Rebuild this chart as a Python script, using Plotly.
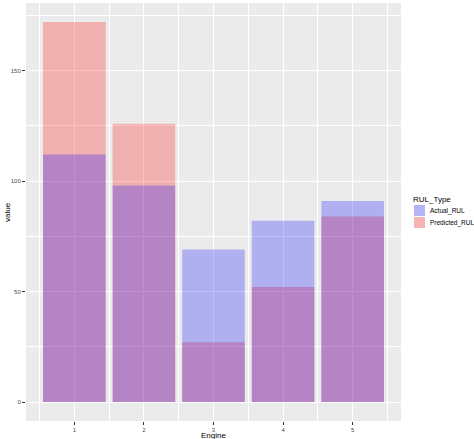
import plotly.graph_objects as go

engines = [1, 2, 3, 4, 5]
actual_rul = [112, 98, 69, 82, 91]
predicted_rul = [172, 126, 27, 52, 84]
series_names = ["Actual_RUL", "Predicted_RUL"]
series_colors = ["rgba(0,0,255,0.25)", "rgba(255,0,0,0.25)"]

font = "Liberation Sans, Arial, sans-serif"
W, H = 474, 439
L, R, T, B = 26, 73, 3, 18
pw, ph = W - L - R, H - T - B


def px_x(x):
    # pixel -> paper x
    return (x - L) / pw


def px_y(y):
    # pixel (from top) -> paper y
    return (H - B - y) / ph


fig = go.Figure()

# predicted drawn first so the actual bars sit on top (purple overlap)
fig.add_trace(go.Bar(
    x=engines, y=predicted_rul, name=series_names[1], width=0.9,
    marker=dict(color=series_colors[1], line=dict(width=0)),
))
fig.add_trace(go.Bar(
    x=engines, y=actual_rul, name=series_names[0], width=0.9,
    marker=dict(color=series_colors[0], line=dict(width=0)),
))

ymax = max(max(actual_rul), max(predicted_rul))
pad = ymax * 0.05

# axis titles as annotations so they can sit exactly where ggplot put them
fig.add_annotation(
    x=0.5, y=px_y(435.5), xref="paper", yref="paper", text="Engine",
    showarrow=False, yanchor="middle", font=dict(size=8, color="black"),
)
fig.add_annotation(
    x=px_x(7), y=0.5, xref="paper", yref="paper", text="value", textangle=-90,
    showarrow=False, xanchor="center", font=dict(size=8, color="black"),
)

# hand-drawn legend, ggplot style
fig.add_annotation(
    x=px_x(412), y=px_y(199), xref="paper", yref="paper", text="RUL_Type",
    showarrow=False, xanchor="left", yanchor="middle", xshift=-1,
    font=dict(size=8, color="black"),
)
for i, (nm, col) in enumerate(zip(series_names, series_colors)):
    top = 205 + i * 12
    for fill in ("#F2F2F2", col):
        fig.add_shape(
            type="rect", xref="paper", yref="paper",
            x0=px_x(414), x1=px_x(425), y0=px_y(top + 11), y1=px_y(top),
            fillcolor=fill, line=dict(width=0),
        )
    fig.add_annotation(
        x=px_x(428), y=px_y(top + 5.5), xref="paper", yref="paper", text=nm,
        showarrow=False, xanchor="left", yanchor="middle",
        font=dict(size=6.5, color="black"),
    )

fig.update_layout(
    barmode="overlay",
    width=W, height=H,
    showlegend=False,
    margin=dict(l=L, r=R, t=T, b=B, autoexpand=False),
    paper_bgcolor="white",
    plot_bgcolor="#EBEBEB",
    font=dict(family=font, size=6, color="#4D4D4D"),
    xaxis=dict(
        range=[0.305, 5.695], tick0=1, dtick=1, automargin=False,
        showgrid=True, gridcolor="white", gridwidth=1.1,
        minor=dict(tick0=0.5, dtick=1, showgrid=True, gridcolor="white", gridwidth=0.5),
        zeroline=False, ticks="outside", ticklen=3, tickcolor="#333333",
        tickfont=dict(size=6, color="#4D4D4D"),
    ),
    yaxis=dict(
        range=[-pad, ymax + pad], tick0=0, dtick=50, automargin=False,
        showgrid=True, gridcolor="white", gridwidth=1.1,
        minor=dict(tick0=25, dtick=50, showgrid=True, gridcolor="white", gridwidth=0.5),
        zeroline=False, ticks="outside", ticklen=3, tickcolor="#333333",
        tickfont=dict(size=6, color="#4D4D4D"),
    ),
)

fig.write_html("out.html", config={"displayModeBar": False},
               post_script="document.body.style.margin='0';")
